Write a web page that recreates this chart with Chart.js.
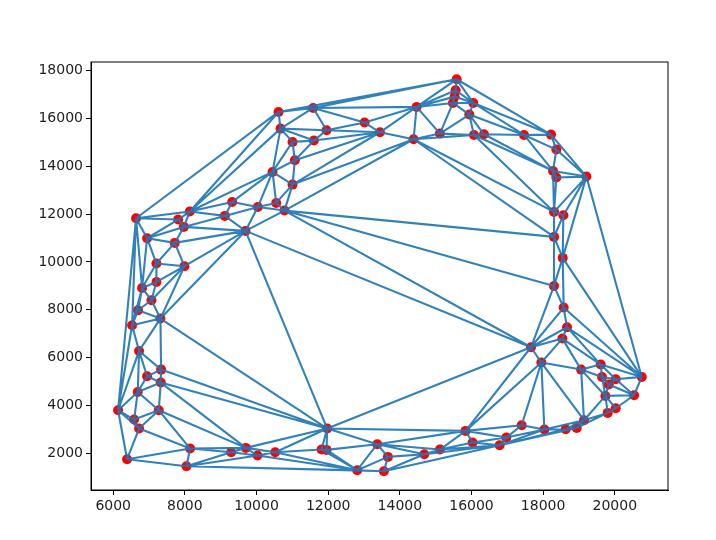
<!DOCTYPE html>
<html>

<head>
    <title>Triangulation</title>
    <script src="https://cdn.jsdelivr.net/npm/chart.js"></script>
    <style>
        body {
            margin: 0;
            background: #fff;
        }
    </style>
</head>

<body>
    <canvas id="chart" width="716" height="540"></canvas>

    <script>
        // Point coordinates
        const xs = [10614, 11582, 13016, 11954, 10670, 11005, 11601, 11070, 10446, 11005, 9320, 8137, 6638, 7811, 7970, 9115, 10037, 10549, 10781, 9692,
            6946, 7718, 7206, 7988, 7206, 6806, 7067, 6694, 6527, 7318, 6722, 7337, 6946, 7327, 6685, 6136, 7272, 6583, 6722, 6387,
            8147, 8044, 9292, 9701, 10027, 10521, 11973, 11815, 11954, 12811, 13555, 13667, 13369, 14682, 15119, 15836, 16032, 16786, 16972, 17400,
            18034, 18629, 18937, 19141, 19802, 20026, 20538, 19737, 20752, 20026, 19830, 19644, 19607, 19060, 17950, 17661, 18536, 18667, 18573, 18303,
            18546, 18304, 18564, 18304, 19207, 18369, 18276, 18369, 18220, 17466, 16348, 16069, 15939, 16050, 15483, 15557, 15585, 14468, 15119, 14384, 13444, 15530];
        const ys = [16261, 16428, 15816, 15496, 15565, 15009, 15065, 14244, 13757, 13228, 12505, 12102, 11824, 11768, 11462, 11921, 12296, 12463, 12143, 11295,
            10989, 10794, 9932, 9821, 9165, 8914, 8400, 7982, 7356, 7635, 6285, 5506, 5228, 4964, 4574, 3809, 3809, 3420, 3044, 1765,
            2210, 1472, 2057, 2238, 1918, 2057, 3044, 2168, 2154, 1306, 1264, 1862, 2391, 1973, 2168, 2947, 2460, 2349, 2669, 3183,
            3003, 3017, 3072, 3392, 3698, 3893, 4435, 4407, 5200, 5103, 4880, 5200, 5715, 5506, 5800, 6438, 6800, 7273, 8094, 8998,
            10168, 11045, 11949, 12088, 13562, 13521, 13799, 14689, 15315, 15301, 15329, 15301, 16150, 16636, 16636, 17165, 17624, 16470, 15357, 15120, 15412, 16900];
        const xTicks = [6000, 8000, 10000, 12000, 14000, 16000, 18000, 20000];
        const yTicks = [2000, 4000, 6000, 8000, 10000, 12000, 14000, 16000, 18000];

        // Delaunay triangulation (Bowyer-Watson), returns the unique edges
        function delaunayEdges(px, py) {
            const n = px.length;
            const big = 1e8;
            const X = px.concat([-big, big, 0]);
            const Y = py.concat([-big, -big, big]);
            let tris = [[n, n + 1, n + 2]];

            function inCircle(t, i) {
                const ax = X[t[0]] - X[i], ay = Y[t[0]] - Y[i];
                const bx = X[t[1]] - X[i], by = Y[t[1]] - Y[i];
                const cx = X[t[2]] - X[i], cy = Y[t[2]] - Y[i];
                const det = (ax * ax + ay * ay) * (bx * cy - cx * by)
                    - (bx * bx + by * by) * (ax * cy - cx * ay)
                    + (cx * cx + cy * cy) * (ax * by - bx * ay);
                const area = (X[t[1]] - X[t[0]]) * (Y[t[2]] - Y[t[0]]) - (Y[t[1]] - Y[t[0]]) * (X[t[2]] - X[t[0]]);
                return area > 0 ? det > 0 : det < 0;
            }

            for (let i = 0; i < n; i++) {
                const keep = [];
                const hole = {};
                tris.forEach(t => {
                    if (inCircle(t, i)) {
                        [[t[0], t[1]], [t[1], t[2]], [t[2], t[0]]].forEach(e => {
                            const key = Math.min(e[0], e[1]) + '_' + Math.max(e[0], e[1]);
                            hole[key] = hole[key] ? null : e;
                        });
                    } else {
                        keep.push(t);
                    }
                });
                Object.values(hole).forEach(e => {
                    if (e) keep.push([e[0], e[1], i]);
                });
                tris = keep;
            }

            const seen = {};
            tris.forEach(t => {
                [[t[0], t[1]], [t[1], t[2]], [t[2], t[0]]].forEach(e => {
                    if (e[0] < n && e[1] < n) {
                        seen[Math.min(e[0], e[1]) + '_' + Math.max(e[0], e[1])] = [e[0], e[1]];
                    }
                });
            });
            return Object.values(seen);
        }

        // One line dataset, edges split by gaps
        const edgeData = [];
        delaunayEdges(xs, ys).forEach(e => {
            edgeData.push({ x: xs[e[0]], y: ys[e[0]] });
            edgeData.push({ x: xs[e[1]], y: ys[e[1]] });
            edgeData.push({ x: null, y: null });
        });
        const pointData = xs.map((x, i) => ({ x: x, y: ys[i] }));

        const tickFont = { family: 'DejaVu Sans', size: 14 };

        new Chart(document.getElementById('chart').getContext('2d'), {
            type: 'scatter',
            data: {
                datasets: [{
                    data: edgeData,
                    showLine: true,
                    spanGaps: false,
                    borderColor: 'rgba(31, 119, 180, 0.92)',
                    borderWidth: 2.1,
                    pointRadius: 0,
                    order: 0
                }, {
                    data: pointData,
                    backgroundColor: '#ff0000',
                    borderWidth: 0,
                    pointRadius: 5,
                    order: 1
                }]
            },
            options: {
                responsive: false,
                animation: false,
                layout: { padding: { top: 62, right: 48, left: 0, bottom: 0 } },
                plugins: { legend: { display: false }, tooltip: { enabled: false } },
                scales: {
                    x: {
                        min: 5380,
                        max: 21485,
                        afterBuildTicks: scale => { scale.ticks = xTicks.map(v => ({ value: v })); },
                        afterFit: scale => { scale.height = 50; },
                        ticks: { color: '#222', font: tickFont, maxRotation: 0, padding: 3, callback: v => String(v) },
                        grid: { drawOnChartArea: false, tickLength: 5, tickColor: '#000', tickWidth: 1 },
                        border: { color: '#000', width: 1 }
                    },
                    y: {
                        min: 480,
                        max: 18345,
                        afterBuildTicks: scale => { scale.ticks = yTicks.map(v => ({ value: v })); },
                        afterFit: scale => { scale.width = 91; },
                        ticks: { color: '#222', font: tickFont, padding: 3, callback: v => String(v) },
                        grid: { drawOnChartArea: false, tickLength: 5, tickColor: '#000', tickWidth: 1 },
                        border: { color: '#000', width: 1 }
                    }
                }
            },
            plugins: [{
                // top and right spines
                id: 'frame',
                afterDraw: chart => {
                    const a = chart.chartArea, c = chart.ctx;
                    c.save();
                    c.strokeStyle = '#000';
                    c.lineWidth = 1;
                    c.strokeRect(a.left, a.top, a.right - a.left, a.bottom - a.top);
                    c.restore();
                }
            }]
        });
    </script>
</body>

</html>
